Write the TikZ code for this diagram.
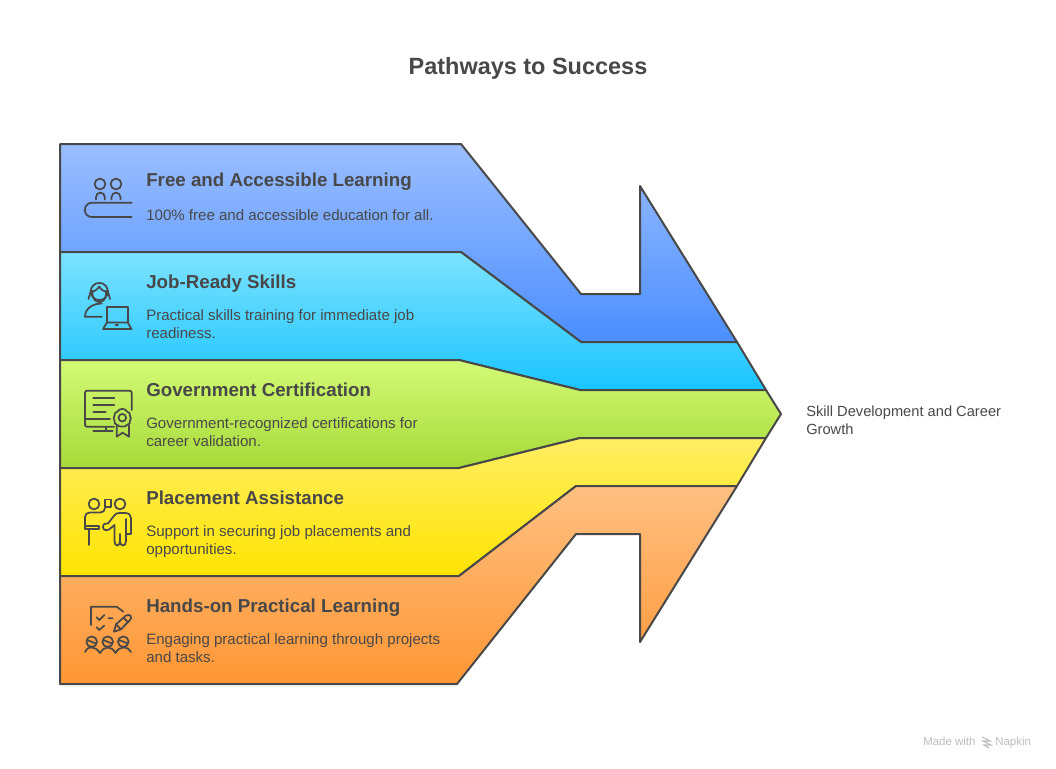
\documentclass[tikz,border=0pt]{standalone}
\usepackage{fontspec}
\setmainfont{Liberation Sans}
\begin{document}
\begin{tikzpicture}[x=0.75pt,y=-0.75pt,
  band/.style={draw=inkc,line width=1.5pt,line join=round},
  icon/.style={draw=inkc,line width=1.3pt,line cap=round,line join=round,fill=none},
  titletext/.style={anchor=base,inner sep=0pt,text=inkc,font=\fontsize{17.6}{22}\selectfont\bfseries},
  headtext/.style={anchor=base west,inner sep=0pt,text=inkc,font=\fontsize{14.05}{18}\selectfont\bfseries},
  desctext/.style={anchor=west,inner sep=0pt,align=left,text=inkc,font=\fontsize{11.3}{13.5}\selectfont},
  goaltext/.style={anchor=west,inner sep=0pt,align=left,text=inkc,font=\fontsize{11}{13.5}\selectfont},
  marktext/.style={anchor=base west,inner sep=0pt,text=markc,font=\fontsize{8.6}{10}\selectfont}]
\definecolor{inkc}{HTML}{484848}
\definecolor{markc}{HTML}{BDBDBD}
\useasboundingbox (0,0) rectangle (1056,768);
\fill[white] (0,0) rectangle (1056,768);
% bands
\path[band,top color={rgb,255:red,155;green,190;blue,255},bottom color={rgb,255:red,75;green,142;blue,255}]
 (60,144)--(461,144)--(581,294)--(640,294)--(640,186)--(737,342)--(581,342)--(461,252)--(60,252)--cycle;
\path[band,top color={rgb,255:red,125;green,226;blue,255},bottom color={rgb,255:red,25;green,196;blue,255}]
 (60,252)--(461,252)--(581,342)--(737,342)--(766,390)--(580,390)--(459,360)--(60,360)--cycle;
\path[band,top color={rgb,255:red,212;green,250;blue,118},bottom color={rgb,255:red,166;green,218;blue,56}]
 (60,360)--(459,360)--(580,390)--(766,390)--(781,414)--(766,438)--(580,438)--(459,468)--(60,468)--cycle;
\path[band,top color={rgb,255:red,255;green,238;blue,100},bottom color={rgb,255:red,255;green,228;blue,0}]
 (60,468)--(459,468)--(580,438)--(766,438)--(737,486)--(576,486)--(459,576)--(60,576)--cycle;
\path[band,top color={rgb,255:red,255;green,192;blue,130},bottom color={rgb,255:red,255;green,150;blue,52}]
 (60,576)--(459,576)--(576,486)--(737,486)--(640,642)--(640,534)--(576,534)--(457,684)--(60,684)--cycle;
% texts
\node[titletext] (title) at (528,74.2) {Pathways to Success};
\node[headtext] (h1) at (146,186.3) {Free and Accessible Learning};
\node[desctext] (d1) at (146,215.4) {100\% free and accessible education for all.};
\node[headtext] (h2) at (146,288.3) {Job-Ready Skills};
\node[desctext] (d2) at (146,324) {Practical skills training for immediate job\\readiness.};
\node[headtext] (h3) at (146,396.3) {Government Certification};
\node[desctext] (d3) at (146,432) {Government-recognized certifications for\\career validation.};
\node[headtext] (h4) at (146,504.3) {Placement Assistance};
\node[desctext] (d4) at (146,541.7) {Support in securing job placements and\\opportunities.};
\node[headtext] (h5) at (146,612.3) {Hands-on Practical Learning};
\node[desctext] (d5) at (146,648) {Engaging practical learning through projects\\and tasks.};
\node[goaltext] (goal) at (806,420) {Skill Development and Career\\Growth};
\node[marktext] (mark1) at (923,745) {Made with};
\node[marktext] (mark2) at (995,745) {Napkin};
\draw[markc,line width=0.8pt] (982,737)--(990,741)--(983,741)--(991,745)--(984,745)--(989,748);
% icon 1
\draw[icon] (100,184) circle (5.4) (116,184) circle (5.4);
\draw[icon] (96,199.5)--(96,197) arc (180:360:4.4)--(104.8,199.5) (111.6,199.5)--(111.6,197) arc (180:360:4.4)--(120.4,199.5);
\draw[icon] (131.7,202.7)--(92,202.7) arc (270:90:7.2)--(131.7,217.1);
% icon 2
\draw[icon] (99.3,291.5) circle (8.6);
\draw[icon] (90.8,291) .. controls (94,292) and (97,290) .. (99.3,286.5) .. controls (101,290) and (104,292) .. (107.8,291);
\draw[icon] (92.5,292) .. controls (92,299) and (96,302) .. (99.3,302) .. controls (103,302) and (106.5,299) .. (106,292);
\draw[icon] (90.8,291) -- (88.5,299) (107.8,291) -- (110,299);
\draw[icon] (101.7,303.5) .. controls (92,303.5) and (85,309) .. (85,316.8) -- (101.7,316.8);
\draw[icon] (107,323) -- (107,306.7) -- (127.7,306.7) -- (127.7,323);
\draw[icon] (107,322.5) -- (103,329) -- (131.5,329) -- (127.7,322.5) -- cycle;
\draw[icon] (115.5,325) -- (118,325);
% icon 3
\draw[icon] (114,426.7) -- (87,426.7) arc (90:180:2) -- (85,392.7) arc (180:270:2) -- (129.7,390.7) arc (270:360:2) -- (131.7,410);
\draw[icon] (93.3,397.7)--(114.3,397.7) (93.3,404.7)--(114.3,404.7) (93.3,411.7)--(105.7,411.7) (85,418.7)--(110,418.7);
\draw[icon] (105.7,426.7)--(105.7,431) (93.3,431)--(112.7,431);
\draw[icon] (122.3,408.8) .. controls (125,408.5) and (126,410.5) .. (127,411.5) .. controls (129,412) and (131,414) .. (130,416) .. controls (131.2,418) and (131.2,419) .. (130,420.5) .. controls (131,423) and (129,424.5) .. (127,425) .. controls (126,426) and (124.5,427) .. (122.3,426.5) .. controls (120,427) and (118,426) .. (117.5,425) .. controls (115.5,424.5) and (113.7,423) .. (114.5,420.5) .. controls (113.3,419) and (113.3,417.5) .. (114.5,416) .. controls (113.7,414) and (115.5,412) .. (117.5,411.5) .. controls (118.5,410.5) and (120,408.5) .. (122.3,408.8) -- cycle;
\draw[icon] (122.3,417.7) circle (3.8);
\draw[icon] (116.7,425.5)--(116.7,436.7)--(122.6,432.7)--(129,436.7)--(129,425.5);
% icon 4
\draw[icon] (94,504) circle (5.4) (120,504) circle (5.4);
\draw[icon] (105,506.7)--(105,499.5)--(110.7,499.5)--(110.7,506.7)--cycle;
\draw[icon] (85,525) -- (85,517) .. controls (85,514) and (87,512.5) .. (90,512.5) -- (100,512.5) .. controls (103,512.5) and (105,511) .. (105,508);
\draw[icon] (85,526)--(99.3,526)--(99.3,529.2)--(85,529.2) -- cycle;
\draw[icon] (89,529.2)--(89,545);
\draw[icon] (103,527) .. controls (103,524) and (105.5,522.5) .. (108,523.5) -- (113,517) .. controls (115,514.5) and (116,513) .. (120,513) -- (125,513) .. controls (129,513) and (131,515) .. (131,518) -- (131,534) -- (126,534);
\draw[icon] (103,527) .. controls (103,530) and (106,531) .. (109,529.5) -- (114.5,525) -- (114.5,541) .. controls (114.5,547) and (120,547) .. (120,541) -- (120,534) -- (120,541) .. controls (120,547) and (126,547) .. (126,541) -- (126,519);
% icon 5
\draw[icon] (91,625)--(91,606.7)--(116.7,606.7)--(123.3,611.7);
\draw[icon] (96.7,617.3)--(99.3,620)--(104.3,615) (96.7,627.3)--(99.3,630)--(104.3,625.5) (108.5,618.3)--(112.5,618.3);
\draw[icon] (114,631.7)--(116,624.3)--(126,615.5) .. controls (128,614) and (130,615) .. (130.7,616) .. controls (131.5,617.5) and (131,619) .. (130,620) -- (121,629.3) -- cycle;
\draw[icon] (116,624.3)--(121,629.3) (123.5,617.8)--(128.3,622.3);
\draw[icon] (91.7,641.7) circle (5.3) (107.7,641.7) circle (5.3) (123.3,641.7) circle (5.3);
\draw[icon] (87,640)--(96,643.5) (103,640)--(112,643.5) (119,640)--(128,643.5);
\draw[icon] (85,652) .. controls (86,649) and (88,647.5) .. (91.7,647.5) .. controls (95,647.5) and (97,649) .. (100,653) .. controls (103,649) and (104.5,647.5) .. (107.7,647.5) .. controls (111,647.5) and (113,649) .. (115.5,653) .. controls (118,649) and (120,647.5) .. (123.3,647.5) .. controls (127,647.5) and (129.5,649) .. (131,652);
\end{tikzpicture}
\end{document}
